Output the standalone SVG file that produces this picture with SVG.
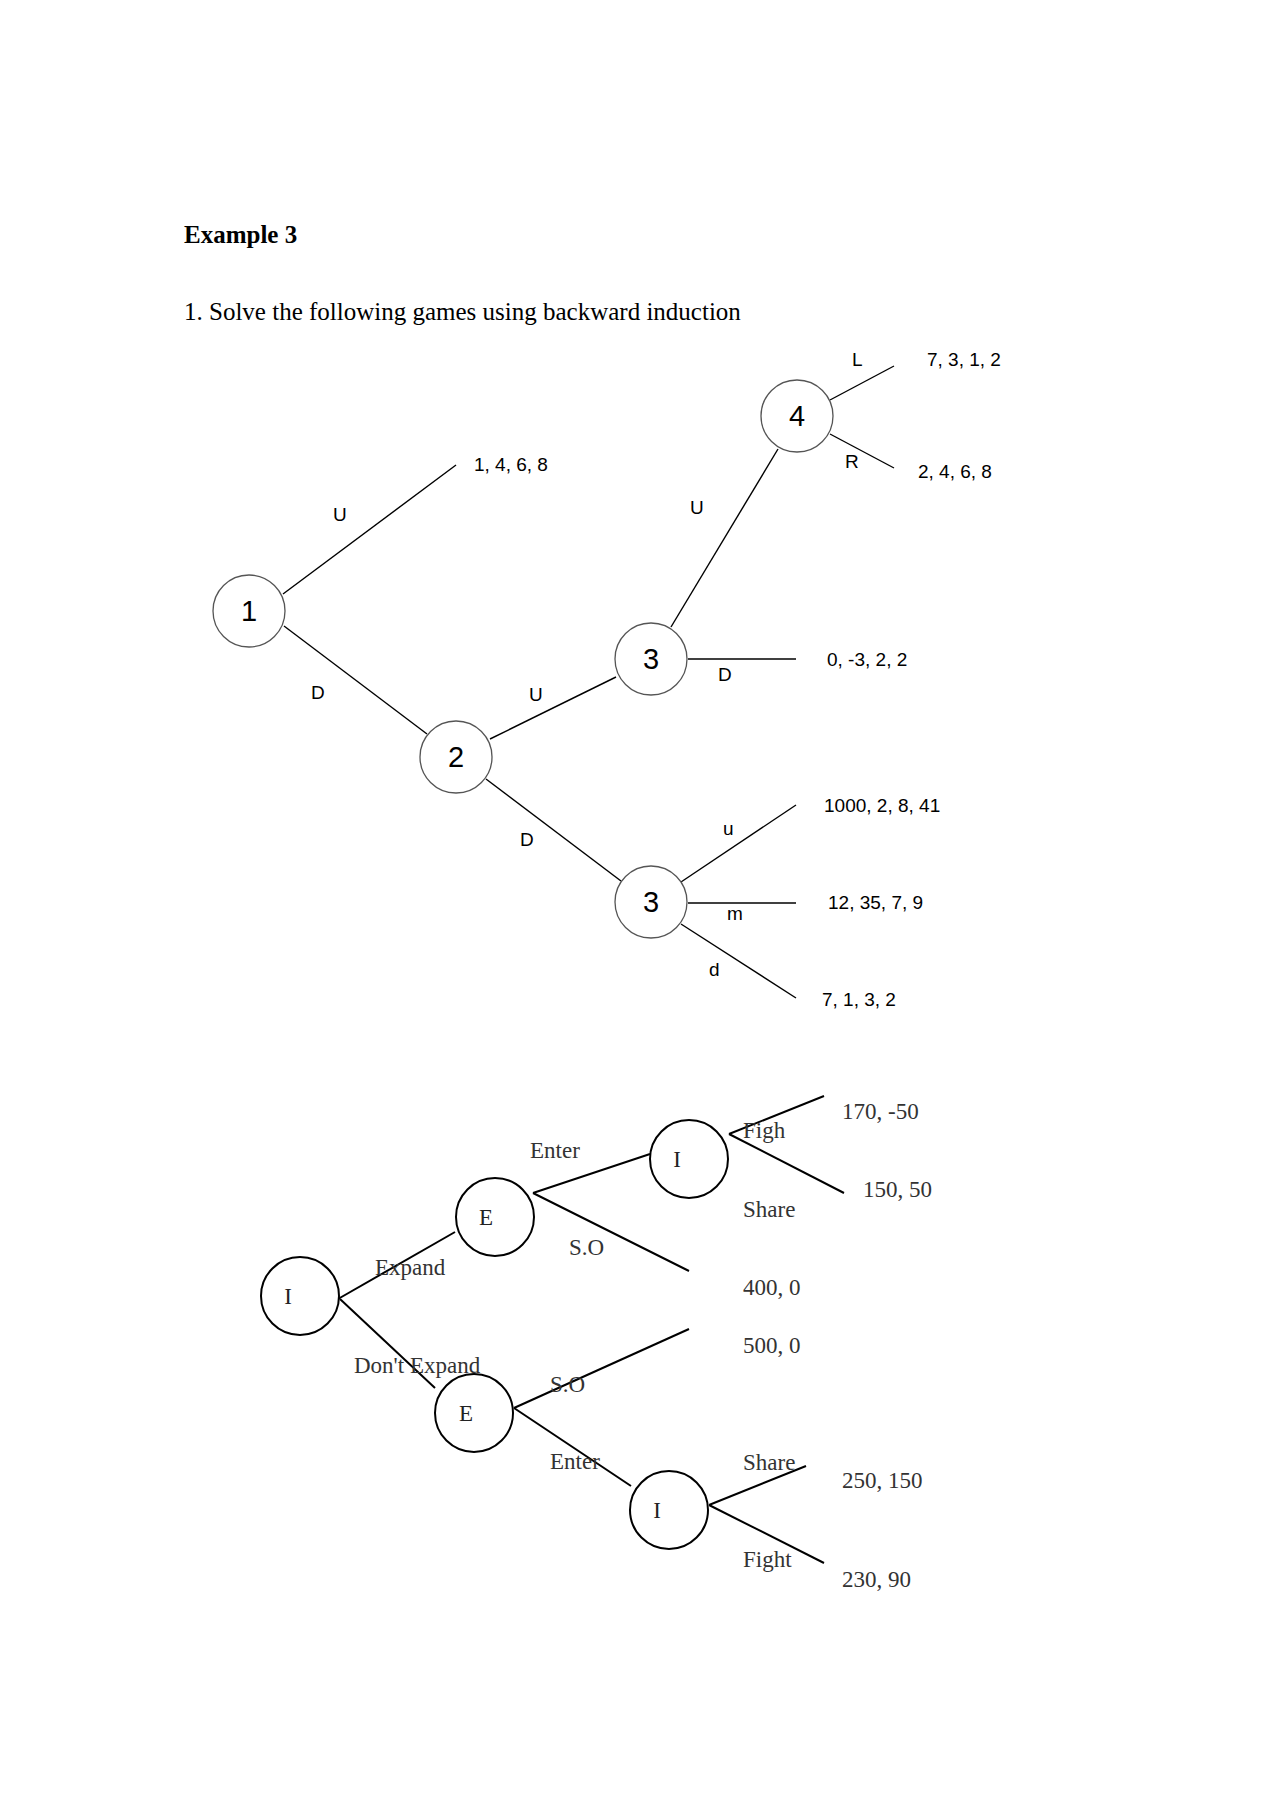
<svg xmlns="http://www.w3.org/2000/svg" width="1280" height="1811" viewBox="0 0 1280 1811">
<style>
.t{font-family:"Liberation Serif",serif;fill:#000}
.a{font-family:"Liberation Sans",Arial,sans-serif;font-size:19px;fill:#000}
.n{font-family:"Liberation Sans",Arial,sans-serif;font-size:29px;fill:#000;text-anchor:middle}
.c1{fill:#fff;stroke:#555;stroke-width:1.3}
.l1{stroke:#000;stroke-width:1.4;fill:none}
.b{font-family:"Liberation Serif",serif;font-size:23px;fill:#333}
.bn{font-family:"Liberation Serif",serif;font-size:23px;fill:#222;text-anchor:middle}
.c2{fill:#fff;stroke:#000;stroke-width:2}
.l2{stroke:#000;stroke-width:2;fill:none}
</style>
<rect width="1280" height="1811" fill="#fff"/>
<text class="t" x="184" y="243" font-size="25" font-weight="bold">Example 3</text>
<text class="t" x="184" y="320" font-size="25">1. Solve the following games using backward induction</text>
<g id="edges1">
<line class="l1" x1="283" y1="594" x2="456" y2="465"/>
<line class="l1" x1="284" y1="626" x2="427" y2="734"/>
<line class="l1" x1="490" y1="739" x2="616" y2="677"/>
<line class="l1" x1="671" y1="627" x2="778" y2="449"/>
<line class="l1" x1="830" y1="400" x2="894" y2="366"/>
<line class="l1" x1="830" y1="434" x2="894" y2="468"/>
<line class="l1" x1="688" y1="659" x2="796" y2="659"/>
<line class="l1" x1="486" y1="779" x2="621" y2="881"/>
<line class="l1" x1="681" y1="882" x2="796" y2="805"/>
<line class="l1" x1="688" y1="903" x2="796" y2="903"/>
<line class="l1" x1="681" y1="924" x2="796" y2="998"/>
</g>
<g id="n1"><circle class="c1" cx="249" cy="611" r="36"/><text class="n" x="249" y="621">1</text></g>
<g id="n2"><circle class="c1" cx="456" cy="757" r="36"/><text class="n" x="456" y="767">2</text></g>
<g id="n3a"><circle class="c1" cx="651" cy="659" r="36"/><text class="n" x="651" y="669">3</text></g>
<g id="n4"><circle class="c1" cx="797" cy="416" r="36"/><text class="n" x="797" y="426">4</text></g>
<g id="n3b"><circle class="c1" cx="651" cy="902" r="36"/><text class="n" x="651" y="912">3</text></g>
<g id="labels1">
<text class="a" x="333" y="521">U</text>
<text class="a" x="474" y="471">1, 4, 6, 8</text>
<text class="a" x="311" y="699">D</text>
<text class="a" x="529" y="701">U</text>
<text class="a" x="690" y="514">U</text>
<text class="a" x="852" y="366">L</text>
<text class="a" x="845" y="468">R</text>
<text class="a" x="927" y="366">7, 3, 1, 2</text>
<text class="a" x="918" y="478">2, 4, 6, 8</text>
<text class="a" x="718" y="681">D</text>
<text class="a" x="827" y="666">0, -3, 2, 2</text>
<text class="a" x="520" y="846">D</text>
<text class="a" x="723" y="835">u</text>
<text class="a" x="824" y="812">1000, 2, 8, 41</text>
<text class="a" x="727" y="920">m</text>
<text class="a" x="828" y="909">12, 35, 7, 9</text>
<text class="a" x="709" y="976">d</text>
<text class="a" x="822" y="1006">7, 1, 3, 2</text>
</g>
<g id="edges2">
<line class="l2" x1="338" y1="1299" x2="455" y2="1232"/>
<line class="l2" x1="340" y1="1299" x2="435" y2="1388"/>
<line class="l2" x1="533" y1="1193" x2="650" y2="1154"/>
<line class="l2" x1="533" y1="1193" x2="689" y2="1271"/>
<line class="l2" x1="729" y1="1134" x2="824" y2="1096"/>
<line class="l2" x1="729" y1="1134" x2="844" y2="1193"/>
<line class="l2" x1="514" y1="1408" x2="689" y2="1329"/>
<line class="l2" x1="514" y1="1408" x2="631" y2="1486"/>
<line class="l2" x1="709" y1="1505" x2="806" y2="1466"/>
<line class="l2" x1="709" y1="1505" x2="824" y2="1563"/>
</g>
<g id="m1"><circle class="c2" cx="300" cy="1296" r="39"/><text class="bn" x="288" y="1304">I</text></g>
<g id="m2"><circle class="c2" cx="495" cy="1217" r="39"/><text class="bn" x="486" y="1225">E</text></g>
<g id="m3"><circle class="c2" cx="689" cy="1159" r="39"/><text class="bn" x="677" y="1167">I</text></g>
<g id="m4"><circle class="c2" cx="474" cy="1413" r="39"/><text class="bn" x="466" y="1421">E</text></g>
<g id="m5"><circle class="c2" cx="669" cy="1510" r="39"/><text class="bn" x="657" y="1518">I</text></g>
<g id="labels2">
<text class="b" x="842" y="1119">170, -50</text>
<text class="b" x="743" y="1138">Figh</text>
<text class="b" x="530" y="1158">Enter</text>
<text class="b" x="863" y="1197">150, 50</text>
<text class="b" x="743" y="1217">Share</text>
<text class="b" x="569" y="1255">S.O</text>
<text class="b" x="375" y="1275">Expand</text>
<text class="b" x="743" y="1295">400, 0</text>
<text class="b" x="743" y="1353">500, 0</text>
<text class="b" x="354" y="1373">Don't Expand</text>
<text class="b" x="550" y="1392">S.O</text>
<text class="b" x="550" y="1469">Enter</text>
<text class="b" x="743" y="1470">Share</text>
<text class="b" x="842" y="1488">250, 150</text>
<text class="b" x="743" y="1567">Fight</text>
<text class="b" x="842" y="1587">230, 90</text>
</g>
</svg>
